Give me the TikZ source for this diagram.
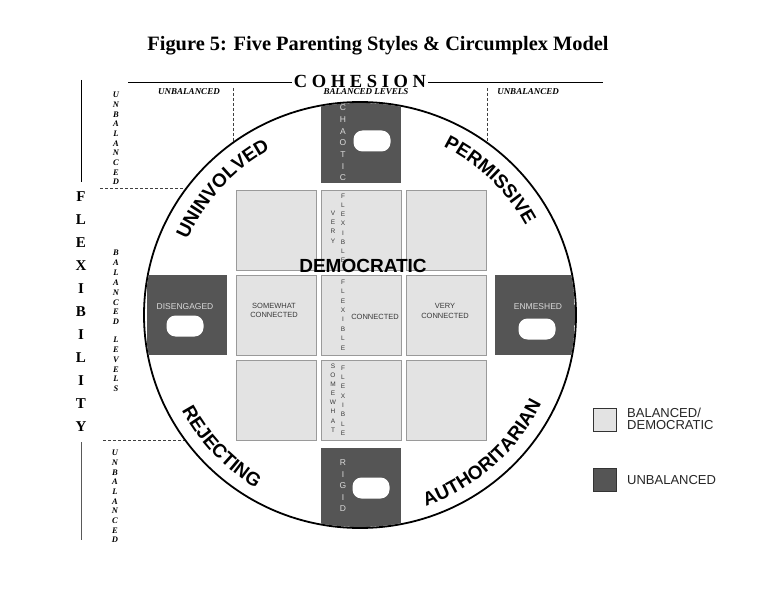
\documentclass[tikz,border=0pt]{standalone}
\usepackage{fontspec}
\setmainfont{Liberation Serif}
\setsansfont{Liberation Sans}
\usetikzlibrary{decorations.text,calc}
\definecolor{darkbox}{HTML}{555555}
\definecolor{lightcell}{HTML}{E3E3E3}
\definecolor{cellborder}{HTML}{9A9A9A}
\definecolor{lighttext}{HTML}{DADADA}
\definecolor{smalltext}{HTML}{3A3A3A}
\newcommand\curvefont{\sffamily\bfseries\fontsize{19}{19}\selectfont}
\begin{document}
\begin{tikzpicture}[x=1pt,y=1pt,
  lcell/.style={draw=cellborder, line width=0.7pt, fill=lightcell, minimum width=80pt, minimum height=80pt, inner sep=0pt},
  dbox/.style={fill=darkbox, minimum width=80pt, minimum height=80pt, inner sep=0pt},
  pill/.style={fill=white, rounded corners=9pt, minimum width=37pt, minimum height=21pt, inner sep=0pt},
  colletter/.style={font=\sffamily\fontsize{6.5}{7}\selectfont, text=smalltext, inner sep=0pt},
  celltext/.style={font=\sffamily\fontsize{7.5}{9.3}\selectfont, text=smalltext, align=center, inner sep=0pt},
  darktext/.style={font=\sffamily\fontsize{8.5}{9}\selectfont, text=lighttext, inner sep=0pt},
  sideletter/.style={font=\bfseries\itshape\fontsize{8.5}{9}\selectfont, inner sep=0pt},
  flexletter/.style={font=\bfseries\fontsize{15}{15}\selectfont, inner sep=0pt},
  headlabel/.style={font=\bfseries\itshape\fontsize{9}{10}\selectfont, inner sep=0pt},
  dashline/.style={densely dashed, line width=0.6pt, black!75},
  legendtext/.style={font=\sffamily\fontsize{13}{13}\selectfont, text=black!85, anchor=west, inner sep=0pt},
  curvelabel/.style={decorate, decoration={text along path, text align=center, text={|\curvefont|#1}}},
]
\fill[white] (0,0) rectangle (768,590);
\useasboundingbox (0,0) rectangle (768,590);

% title
\node[font=\bfseries\fontsize{20.4}{22}\selectfont, inner sep=0pt] (title) at (378,544) {Figure 5: Five Parenting Styles \& Circumplex Model};

% cohesion axis
\node[font=\bfseries\fontsize{18.5}{20}\selectfont, inner sep=2pt] (cohesion) at (360,509) {C O H E S I O N};
\coordinate (cohL) at (128,507.5);
\coordinate (cohR) at (603,507.5);
\draw[line width=0.8pt] (cohL) -- (cohesion.west |- cohL);
\draw[line width=0.8pt] (cohesion.east |- cohR) -- (cohR);

\node[headlabel] (hl1) at (189,498) {UNBALANCED};
\node[headlabel] (hl2) at (366,498) {BALANCED LEVELS};
\node[headlabel] (hl3) at (528,498) {UNBALANCED};

% flexibility axis
\foreach \l [count=\i from 0] in {F,L,E,X,I,B,I,L,I,T,Y}
  \node[flexletter] (fx\i) at (81,393-23*\i) {\l};
\coordinate (fl1) at (81,510);
\coordinate (fl2) at (81,408);
\coordinate (fl3) at (81,148);
\coordinate (fl4) at (81,50);
\draw[line width=0.8pt] (fl1) -- (fl2);
\draw[line width=0.8pt, black!65] (fl3) -- (fl4);

\foreach \l [count=\i from 0] in {U,N,B,A,L,A,N,C,E,D}
  \node[sideletter] (su\i) at (116,495-9.67*\i) {\l};
\foreach \l [count=\i from 0] in {B,A,L,A,N,C,E,D}
  \node[sideletter] (sb\i) at (116,337-9.86*\i) {\l};
\foreach \l [count=\i from 0] in {L,E,V,E,L,S}
  \node[sideletter] (sl\i) at (116,250-9.8*\i) {\l};
\foreach \l [count=\i from 0] in {U,N,B,A,L,A,N,C,E,D}
  \node[sideletter] (sd\i) at (115,137-9.67*\i) {\l};

% dashed separators
\coordinate (dv1a) at (233,502); \coordinate (dv1b) at (233,447);
\coordinate (dv2a) at (487,502); \coordinate (dv2b) at (487,447);
\coordinate (dh1a) at (100,402); \coordinate (dh1b) at (186,402);
\coordinate (dh2a) at (103,150); \coordinate (dh2b) at (185,150);
\draw[dashline] (dv1a) -- (dv1b);
\draw[dashline] (dv2a) -- (dv2b);
\draw[dashline] (dh1a) -- (dh1b);
\draw[dashline] (dh2a) -- (dh2b);

% circle centre
\coordinate (O) at (360,275);

% balanced cells
\node[lcell] (c11) at (276,360) {};
\node[lcell] (c12) at (361,360) {};
\node[lcell] (c13) at (446,360) {};
\node[lcell] (c21) at (276,275) {};
\node[lcell] (c22) at (361,275) {};
\node[lcell] (c23) at (446,275) {};
\node[lcell] (c31) at (276,190) {};
\node[lcell] (c32) at (361,190) {};
\node[lcell] (c33) at (446,190) {};

% unbalanced boxes
\begin{scope}
  \clip (O) ellipse [x radius=215, y radius=212];
  \node[dbox] (chaotic) at (361,447) {};
  \node[dbox, minimum height=84pt] (rigid) at (361,100) {};
  \node[dbox] (diseng) at (187,275) {};
  \node[dbox] (enmesh) at (535,275) {};
\end{scope}

\node[pill] (p1) at (372,449) {};
\node[pill] (p2) at (185,264) {};
\node[pill] (p3) at (537,261) {};
\node[pill] (p4) at (371,102) {};

\node[darktext] (tdis) at (185,283) {DISENGAGED};
\node[darktext] (tenm) at (538,283) {ENMESHED};
\foreach \l [count=\i from 0] in {C,H,A,O,T,I,C}
  \node[darktext] (ch\i) at (343,482-11.67*\i) {\l};
\foreach \l [count=\i from 0] in {R,I,G,I,D}
  \node[darktext] (rg\i) at (343,127-11.5*\i) {\l};

% centre column letters
\foreach \l [count=\i from 0] in {V,E,R,Y}
  \node[colletter] (vy\i) at (333,377-9.3*\i) {\l};
\foreach \l [count=\i from 0] in {F,L,E,X,I,B,L,E}
  \node[colletter] (fa\i) at (343,394-9.2*\i) {\l};
\foreach \l [count=\i from 0] in {F,L,E,X,I,B,L,E}
  \node[colletter] (fb\i) at (343,308-9.4*\i) {\l};
\foreach \l [count=\i from 0] in {S,O,M,E,W,H,A,T}
  \node[colletter] (sw\i) at (333,224-9.14*\i) {\l};
\foreach \l [count=\i from 0] in {F,L,E,X,I,B,L,E}
  \node[colletter] (fc\i) at (343,222-9.3*\i) {\l};

\node[celltext] (tsc) at (274,279.5) {SOMEWHAT\\CONNECTED};
\node[celltext] (tvc) at (445,279) {VERY\\CONNECTED};
\node[celltext] (tc) at (375,273) {CONNECTED};

\node[font=\sffamily\bfseries\fontsize{19}{20}\selectfont, inner sep=0pt] (demo) at (363,324) {DEMOCRATIC};

% outer circle
\draw[line width=1.8pt] (O) ellipse [x radius=216, y radius=213];

% parenting styles along the circle
\path[curvelabel=UNINVOLVED] ($(O)+(177.5:188)$) arc[start angle=177.5, end angle=97.5, radius=188];
\path[curvelabel=PERMISSIVE] ($(O)+(86:188)$) arc[start angle=86, end angle=6, radius=188];
\path[curvelabel=REJECTING] ($(O)+(178.5:202)$) arc[start angle=178.5, end angle=268.5, radius=202];
\path[curvelabel=AUTHORITARIAN] ($(O)+(261.5:202)$) arc[start angle=261.5, end angle=361.5, radius=202];

% legend
\node[draw=black!80, line width=0.6pt, fill=lightcell, minimum size=23pt, inner sep=0pt] (lg1) at (604.5,170.5) {};
\node[legendtext] (lg1t) at (627,177) {BALANCED/};
\node[legendtext] (lg1u) at (627,165) {DEMOCRATIC};
\node[draw=black!80, line width=0.6pt, fill=darkbox, minimum size=23pt, inner sep=0pt] (lg2) at (605,110.5) {};
\node[legendtext] (lg2t) at (627,110) {UNBALANCED};
\end{tikzpicture}
\end{document}
